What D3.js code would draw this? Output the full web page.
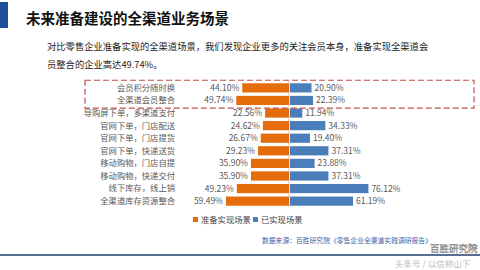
<!DOCTYPE html>
<html>
<head>
<meta charset="utf-8">
<script src="https://cdn.jsdelivr.net/npm/d3@7"></script>
<style>
  body { margin: 0; background: #fff; }
  svg { display: block; font-family: "Noto Sans CJK SC", "Noto Sans", sans-serif; }
</style>
</head>
<body>
<div id="chart"></div>
<script>
// data
const scenes = ['会员积分随时换', '全渠道会员整合', '导购屏下单，多渠道支付', '官网下单，门店配送',
  '官网下单，门店提货', '官网下单，快递送货', '移动购物，门店自提', '移动购物，快递交付',
  '线下库存，线上销', '全渠道库存资源整合']
const planned = [44.10, 49.74, 22.56, 24.62, 26.67, 29.23, 35.90, 35.90, 49.23, 59.49]
const done = [20.90, 22.39, 11.94, 34.33, 19.40, 37.31, 23.88, 37.31, 76.12, 61.19]
const seriesNames = ['准备实现场景', '已实现场景']
const colors = ['#E46C0A', '#4A7EBB']

const width = 480, height = 270
const mid = 289

const svg = d3.select('#chart').append('svg')
  .attr('width', width)
  .attr('height', height)

// header
svg.append('rect').attr('x', 0).attr('y', 2).attr('width', 8).attr('height', 26).attr('fill', '#1F4E9C')
svg.append('text')
  .attr('x', 26).attr('y', 24)
  .attr('font-size', 14.5).attr('font-weight', 'bold').attr('fill', '#111')
  .text('未来准备建设的全渠道业务场景')

svg.append('text').attr('x', 47).attr('y', 50)
  .attr('font-size', 9.3).attr('fill', '#222')
  .text('对比零售企业准备实现的全渠道场景，我们发现企业更多的关注会员本身，准备实现全渠道会')
svg.append('text').attr('x', 47).attr('y', 68)
  .attr('font-size', 9.3).attr('fill', '#222')
  .text('员整合的企业高达49.74%。')

// scales
const y = d3.scaleBand().domain(scenes).range([82, 207]).paddingInner(0.27).paddingOuter(0.1)
const xl = d3.scaleLinear().domain([0, 100]).range([0, 106])
const xr = d3.scaleLinear().domain([0, 100]).range([0, 103])

const g = svg.append('g')

// centre line
g.append('line')
  .attr('x1', mid).attr('x2', mid)
  .attr('y1', y.range()[0] - 2).attr('y2', y.range()[1])
  .attr('stroke', '#cfcfcf').attr('stroke-width', 1)

const rows = g.selectAll('g.row').data(scenes).enter().append('g')
  .attr('class', 'row')
  .attr('transform', d => `translate(0,${y(d)})`)

rows.append('rect')
  .attr('x', (d, i) => mid - xl(planned[i]))
  .attr('width', (d, i) => xl(planned[i]))
  .attr('height', y.bandwidth())
  .attr('fill', colors[0])

rows.append('rect')
  .attr('x', mid + 1)
  .attr('width', (d, i) => xr(done[i]))
  .attr('height', y.bandwidth())
  .attr('fill', colors[1])

rows.append('text')
  .attr('x', 175)
  .attr('y', y.bandwidth() / 2)
  .attr('dy', '0.35em')
  .attr('text-anchor', 'end')
  .attr('font-size', 8.3).attr('fill', '#595959')
  .text(d => d)

rows.append('text')
  .attr('x', (d, i) => mid - xl(planned[i]) - 3)
  .attr('y', y.bandwidth() / 2)
  .attr('dy', '0.35em')
  .attr('text-anchor', 'end')
  .attr('font-size', 8.5).attr('fill', '#595959')
  .text((d, i) => planned[i].toFixed(2) + '%')

rows.append('text')
  .attr('x', (d, i) => mid + 1 + xr(done[i]) + 3)
  .attr('y', y.bandwidth() / 2)
  .attr('dy', '0.35em')
  .attr('font-size', 8.5).attr('fill', '#595959')
  .text((d, i) => done[i].toFixed(2) + '%')

// dashed highlight box around first two rows
svg.append('rect')
  .attr('x', 85).attr('y', y(scenes[0]) - 3)
  .attr('width', 389).attr('height', y(scenes[1]) + y.bandwidth() + 3 - (y(scenes[0]) - 3))
  .attr('fill', 'none')
  .attr('stroke', '#C0504D').attr('stroke-width', 1.2)
  .attr('stroke-dasharray', '6,3')

// legend
const legend = svg.append('g').attr('transform', 'translate(193,220)')
seriesNames.forEach((n, i) => {
  const lg = legend.append('g').attr('transform', `translate(${i * 60},0)`)
  lg.append('rect').attr('x', 0).attr('y', -3).attr('width', 5).attr('height', 5).attr('fill', colors[i])
  lg.append('text').attr('x', 8).attr('y', 0).attr('dy', '0.35em')
    .attr('font-size', 8.3).attr('fill', '#444').text(n)
})

// source
svg.append('text')
  .attr('x', 262).attr('y', 243)
  .attr('font-size', 6.8).attr('fill', '#3F5FA8')
  .text('数据来源：百胜研究院《零售企业全渠道实践调研报告》')

// bottom line
svg.append('line')
  .attr('x1', 0).attr('x2', 480).attr('y1', 255).attr('y2', 255)
  .attr('stroke', '#1F3E72').attr('stroke-width', 1.5)

// watermark
svg.append('text').attr('x', 430).attr('y', 252)
  .attr('font-size', 9.5).attr('fill', '#ddd').attr('stroke', '#555').attr('stroke-width', 0.3)
  .text('百胜研究院')
svg.append('text').attr('x', 395).attr('y', 267)
  .attr('font-size', 8.5).attr('fill', '#bbb')
  .text('头条号 / 以信称山下')
</script>
</body>
</html>
